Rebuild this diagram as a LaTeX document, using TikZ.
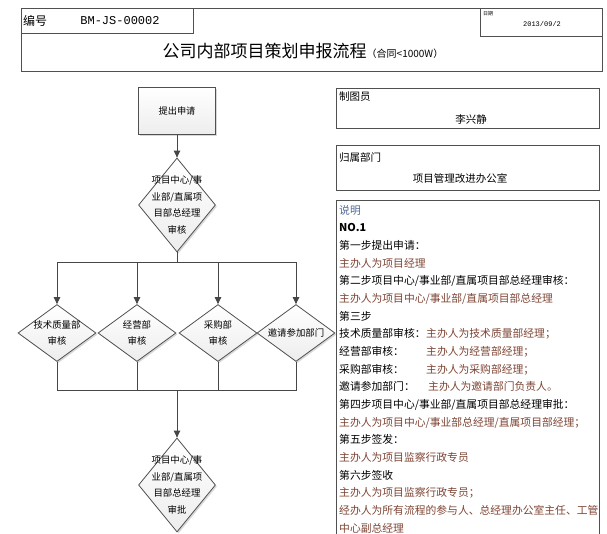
\documentclass[tikz,border=0pt]{standalone}
\usepackage{fontspec}
\setmainfont{Noto Sans CJK SC}
\newfontfamily\codefont{Liberation Mono}
\usepackage{tikz}
\usetikzlibrary{arrows.meta}
\usetikzlibrary{shapes.geometric}
\usetikzlibrary{shadows}

\definecolor{linegray}{RGB}{70,70,70}
\definecolor{framegray}{RGB}{80,80,80}
\definecolor{noteblue}{RGB}{80,105,150}
\definecolor{notebrown}{RGB}{125,68,52}

\begin{document}
\begin{tikzpicture}[x=1pt, y=-1pt,
        line/.style={draw=linegray, line width=0.9pt},
        arr/.style={line, -{Triangle[length=7pt,width=6.5pt]}},
        frame/.style={draw=framegray, line width=0.8pt, rectangle, inner sep=0pt, anchor=north west},
        flowshade/.style={draw=framegray, line width=0.8pt, top color=white, bottom color=gray!14,
            drop shadow={shadow xshift=1.5pt, shadow yshift=-1.5pt, fill=gray!60, opacity=.5}},
        stepbox/.style={flowshade, rectangle, minimum width=77pt, minimum height=47pt,
            font=\fontsize{9.2}{11}\selectfont},
        decision/.style={flowshade, diamond, inner sep=0pt},
        bigdec/.style={decision, minimum width=77pt, minimum height=94pt},
        smalldec/.style={decision, minimum width=78pt, minimum height=57pt},
        dectext/.style={align=center, inner sep=0pt, font=\fontsize{9.4}{16.4}\selectfont}]

    \useasboundingbox (0,0) rectangle (607,534);

    % header
    \node[frame, minimum width=581pt, minimum height=63pt] (head) at (21,8) {};
    \node[frame, minimum width=172pt, minimum height=25pt] (idbox) at (21,8) {};
    \node[frame, minimum width=122pt, minimum height=28pt] (datebox) at (480,8) {};
    \node[font=\fontsize{12}{14}\selectfont] (idlbl) at (35,21) {编号};
    \node[font=\codefont\fontsize{12}{14}\selectfont] (idval) at (120,21) {BM-JS-00002};
    \node[anchor=north west, inner sep=0pt, font=\fontsize{5}{6}\selectfont] (datelbl) at (483,11) {日期};
    \node[font=\codefont\fontsize{7}{8}\selectfont] (dateval) at (542,24) {2013/09/2};
    \node[anchor=base] (title) at (303,58)
        {{\fontsize{17}{20}\selectfont 公司内部项目策划申报流程}{\fontsize{10}{12}\selectfont （合同<1000W）}};

    % flow
    \node[stepbox] (apply) at (177,111) {提出申请};
    \node[bigdec, label={[dectext, name=chk1txt]center:{项目中心/事\\业部/直属项\\目部总经理\\审核}}] (chk1) at (177,205) {};

    \node[smalldec, label={[dectext, name=techtxt]center:{技术质量部\\审核}}] (tech) at (57,333) {};
    \node[smalldec, label={[dectext, name=biztxt]center:{经营部\\审核}}] (biz) at (137,333) {};
    \node[smalldec, label={[dectext, name=buytxt]center:{采购部\\审核}}] (buy) at (218,333) {};
    \node[smalldec, label={[dectext, name=invtxt]center:{邀请参加部门}}] (invite) at (296,333) {};

    \node[bigdec, label={[dectext, name=chk2txt]center:{项目中心/事\\业部/直属项\\目部总经理\\审批}}] (chk2) at (177,485) {};

    \coordinate (busT) at (177,262);
    \coordinate (busB) at (177,390);

    \draw[arr] (apply) -- (chk1);
    \foreach \n in {tech,biz,buy,invite} {
        \draw[arr] (chk1.south) -- (busT) -| (\n.north);
        \draw[line] (\n.south) |- (busB);
    }
    \draw[arr] (busB) -- (chk2.north);

    % side boxes
    \node[frame, minimum width=263pt, minimum height=40pt] (drawer) at (336,88) {};
    \node[anchor=north west, inner sep=0pt, font=\fontsize{10.5}{12}\selectfont] (drawerlbl) at ([shift={(3,4)}]drawer.north west) {制图员};
    \node[font=\fontsize{10.5}{12}\selectfont] (drawername) at (471,120) {李兴静};

    \node[frame, minimum width=263pt, minimum height=45pt] (dept) at (336,145) {};
    \node[anchor=north west, inner sep=0pt, font=\fontsize{10.5}{12}\selectfont] (deptlbl) at ([shift={(3,7)}]dept.north west) {归属部门};
    \node[font=\fontsize{10.5}{12}\selectfont] (deptname) at (460,178) {项目管理改进办公室};

    \node[frame, minimum width=263pt, minimum height=360pt] (notebox) at (336,200) {};
    \node[anchor=north west, align=left, inner sep=0pt, font=\fontsize{10.8}{17.67}\selectfont] (notes) at (339,205) {%
        \textcolor{noteblue}{说明}\\
        \textbf{NO.1}\\
        第一步提出申请：\\
        \textcolor{notebrown}{主办人为项目经理}\\
        第二步项目中心/事业部/直属项目部总经理审核：\\
        \textcolor{notebrown}{主办人为项目中心/事业部/直属项目部总经理}\\
        第三步\\
        \makebox[87pt][l]{技术质量部审核：}\textcolor{notebrown}{主办人为技术质量部经理；}\\
        \makebox[87pt][l]{经营部审核：}\textcolor{notebrown}{主办人为经营部经理；}\\
        \makebox[87pt][l]{采购部审核：}\textcolor{notebrown}{主办人为采购部经理；}\\
        \makebox[89pt][l]{邀请参加部门：}\textcolor{notebrown}{主办人为邀请部门负责人。}\\
        第四步项目中心/事业部/直属项目部总经理审批：\\
        \textcolor{notebrown}{主办人为项目中心/事业部总经理/直属项目部经理；}\\
        第五步签发：\\
        \textcolor{notebrown}{主办人为项目监察行政专员}\\
        第六步签收\\
        \textcolor{notebrown}{主办人为项目监察行政专员；}\\
        \textcolor{notebrown}{经办人为所有流程的参与人、总经理办公室主任、工管}\\
        \textcolor{notebrown}{中心副总经理}};

\end{tikzpicture}
\end{document}
